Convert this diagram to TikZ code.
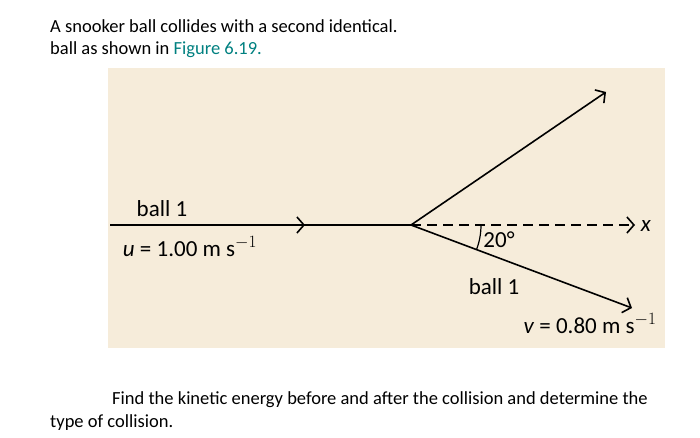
\documentclass[tikz,border=0pt]{standalone}
\usepackage{fontspec}
\setmainfont{Carlito}
\usetikzlibrary{arrows.meta,calc}
\definecolor{beige}{RGB}{246,236,218}
\definecolor{teal}{RGB}{0,128,128}
\begin{document}
\begin{tikzpicture}[x=1pt,y=-1pt,
  txt/.style={font=\fontsize{18.5}{20}\selectfont,anchor=west,inner sep=0},
  lbl/.style={font=\fontsize{23}{25}\selectfont,inner sep=0},
  vec/.style={line width=1.6pt,-{Straight Barb[length=7pt,width=16pt]}}]
\useasboundingbox (0,0) rectangle (700,438);
\fill[beige] (108,68) rectangle (665,348);
\node[txt] (t1) at (50,26) {A snooker ball collides with a second identical.};
\node[txt] (t2) at (50,50) {ball as shown in \textcolor{teal}{Figure 6.19.}};
\coordinate (s) at (110,225);
\coordinate (o) at (411,225);
\coordinate (m) at (305,225);
\coordinate (up) at (606,92);
\coordinate (xe) at (635,225);
\coordinate (xp) at (634,225);
\coordinate (dn) at (632,308);
\coordinate (arcs) at (481,225);
\draw[line width=1.6pt] (s) -- (o);
\draw[vec] (s) -- (m);
\draw[vec] (o) -- (up);
\draw[vec] (o) -- (dn);
\draw[line width=1.6pt,dash pattern=on 10pt off 6pt] (o) -- (xe);
\draw[vec] (xp) -- (xe);
\draw[line width=1.2pt] (arcs) arc[start angle=0,end angle=20.6,radius=70];
\node[lbl] (x) at (646,226) {\textit{x}};
\node[lbl] (b1) at (162,209) {ball 1};
\node[lbl] (u) at (190,247) {\textit{u} = 1.00 m s$^{-1}$};
\node[lbl] (a) at (499,240) {20°};
\node[lbl] (b2) at (494,287) {ball 1};
\node[lbl] (v) at (590,324) {\textit{v} = 0.80 m s$^{-1}$};
\node[txt] (t3) at (112,400) {Find the kinetic energy before and after the collision and determine the};
\node[txt] (t4) at (50,423) {type of collision.};
\end{tikzpicture}
\end{document}
